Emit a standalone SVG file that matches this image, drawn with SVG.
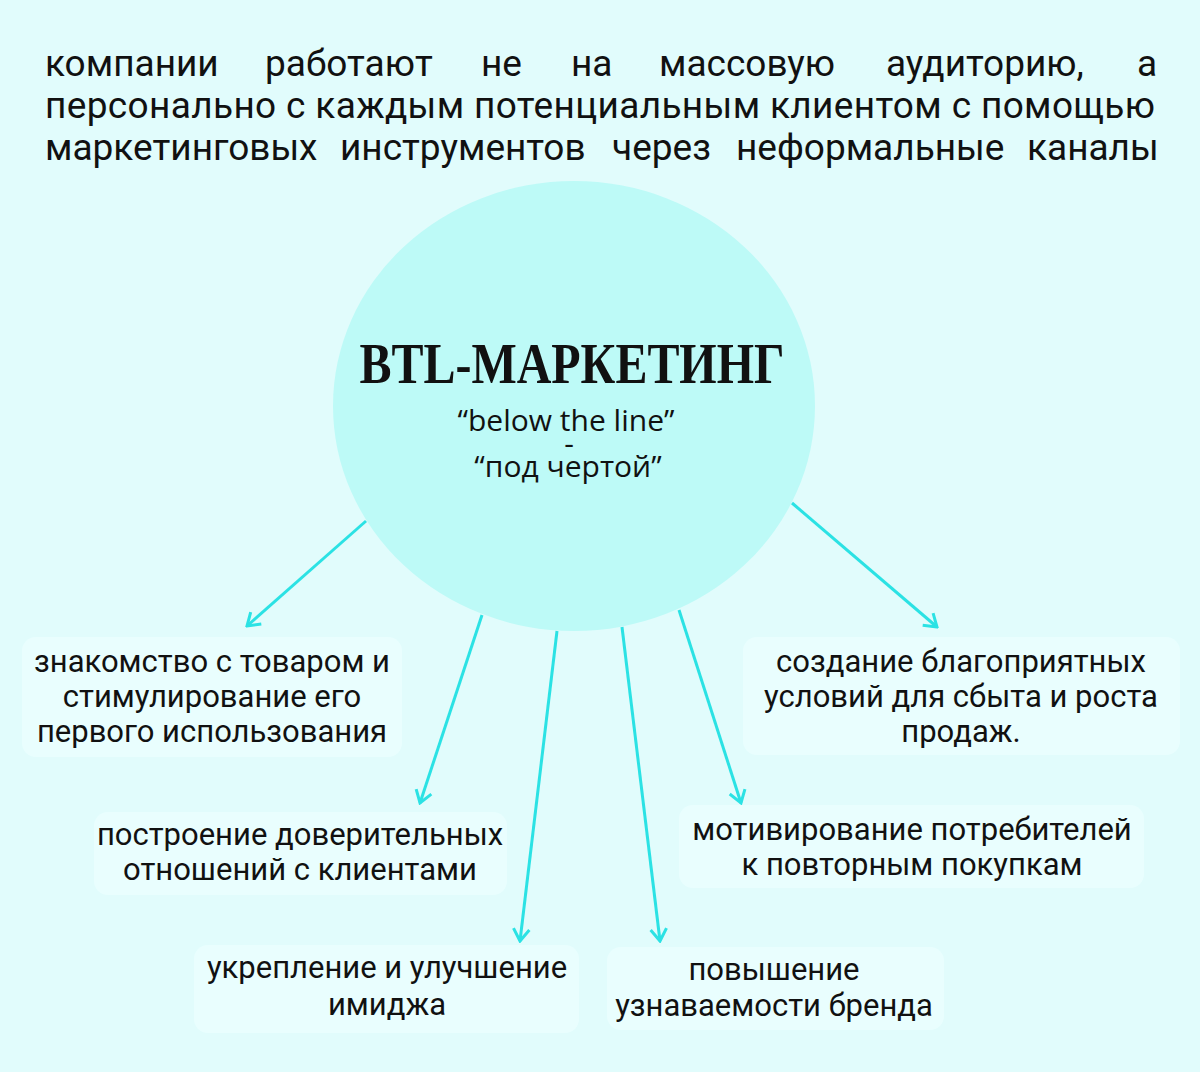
<svg xmlns="http://www.w3.org/2000/svg" width="1200" height="1072" viewBox="0 0 1200 1072">
<defs>
<style>
.top{font-family:Roboto,"Liberation Sans",sans-serif;font-size:37px;fill:#111;}
.lbl{font-family:Roboto,"Liberation Sans",sans-serif;font-size:31px;fill:#111;text-anchor:middle;}
.box{fill:#E9FEFE;}
.title{font-family:"Liberation Serif",serif;font-weight:bold;font-size:58px;fill:#111;text-anchor:middle;}
.sub{font-family:"Open Sans","Noto Sans",sans-serif;font-size:30px;fill:#111;text-anchor:middle;}
.arr{stroke:#2BE2E4;stroke-width:3;fill:none;marker-end:url(#ah);}
</style>
<marker id="ah" viewBox="0 0 20 20" refX="18" refY="10" markerWidth="20" markerHeight="20" markerUnits="userSpaceOnUse" orient="auto">
<path d="M6,2 L18,10 L6,18" fill="none" stroke="#2BE2E4" stroke-width="3"/>
</marker>
</defs>
<rect width="1200" height="1072" fill="#E1FCFC"/>
<g id="intro">
<text class="top" y="76"><tspan x="45">компании</tspan><tspan x="265">работают</tspan><tspan x="481">не</tspan><tspan x="571">на</tspan><tspan x="659">массовую</tspan><tspan x="886">аудиторию,</tspan><tspan x="1137">а</tspan></text>
<text class="top" x="45" y="118" textLength="1110" lengthAdjust="spacing">персонально с каждым потенциальным клиентом с помощью</text>
<text class="top" y="160"><tspan x="45">маркетинговых</tspan><tspan x="340">инструментов</tspan><tspan x="612">через</tspan><tspan x="736">неформальные</tspan><tspan x="1027">каналы</tspan></text>
</g>
<g id="center">
<ellipse cx="574" cy="406" rx="241" ry="225" fill="#BDFAF7"/>
<text class="title" x="572" y="383" textLength="425" lengthAdjust="spacingAndGlyphs">BTL-МАРКЕТИНГ</text>
<text class="sub" x="566" y="431">“below the line”</text>
<text class="sub" x="569" y="454" font-size="12">-</text>
<text class="sub" x="568" y="477">“под чертой”</text>
</g>
<g id="connectors">
<line class="arr" x1="366" y1="521" x2="247" y2="626"/>
<line class="arr" x1="482" y1="615" x2="420" y2="803"/>
<line class="arr" x1="557" y1="631" x2="520" y2="941"/>
<line class="arr" x1="622" y1="627" x2="660" y2="941"/>
<line class="arr" x1="679" y1="610" x2="741" y2="803"/>
<line class="arr" x1="792" y1="503" x2="937" y2="627"/>
</g>
<g id="n1">
<rect class="box" x="22" y="637" width="380" height="120" rx="14"/>
<text class="lbl" x="212" y="672">знакомство с товаром и</text>
<text class="lbl" x="212" y="707">стимулирование его</text>
<text class="lbl" x="212" y="742">первого использования</text>
</g>
<g id="n2">
<rect class="box" x="743" y="637" width="437" height="118" rx="14"/>
<text class="lbl" x="961" y="672">создание благоприятных</text>
<text class="lbl" x="961" y="707">условий для сбыта и роста</text>
<text class="lbl" x="961" y="742">продаж.</text>
</g>
<g id="n3">
<rect class="box" x="94" y="812" width="413" height="83" rx="14"/>
<text class="lbl" x="300" y="845">построение доверительных</text>
<text class="lbl" x="300" y="880">отношений с клиентами</text>
</g>
<g id="n4">
<rect class="box" x="679" y="805" width="465" height="83" rx="14"/>
<text class="lbl" x="912" y="840">мотивирование потребителей</text>
<text class="lbl" x="912" y="875">к повторным покупкам</text>
</g>
<g id="n5">
<rect class="box" x="194" y="945" width="385" height="88" rx="14"/>
<text class="lbl" x="387" y="978">укрепление и улучшение</text>
<text class="lbl" x="387" y="1015">имиджа</text>
</g>
<g id="n6">
<rect class="box" x="607" y="947" width="337" height="83" rx="14"/>
<text class="lbl" x="774" y="980">повышение</text>
<text class="lbl" x="774" y="1016">узнаваемости бренда</text>
</g>
</svg>
